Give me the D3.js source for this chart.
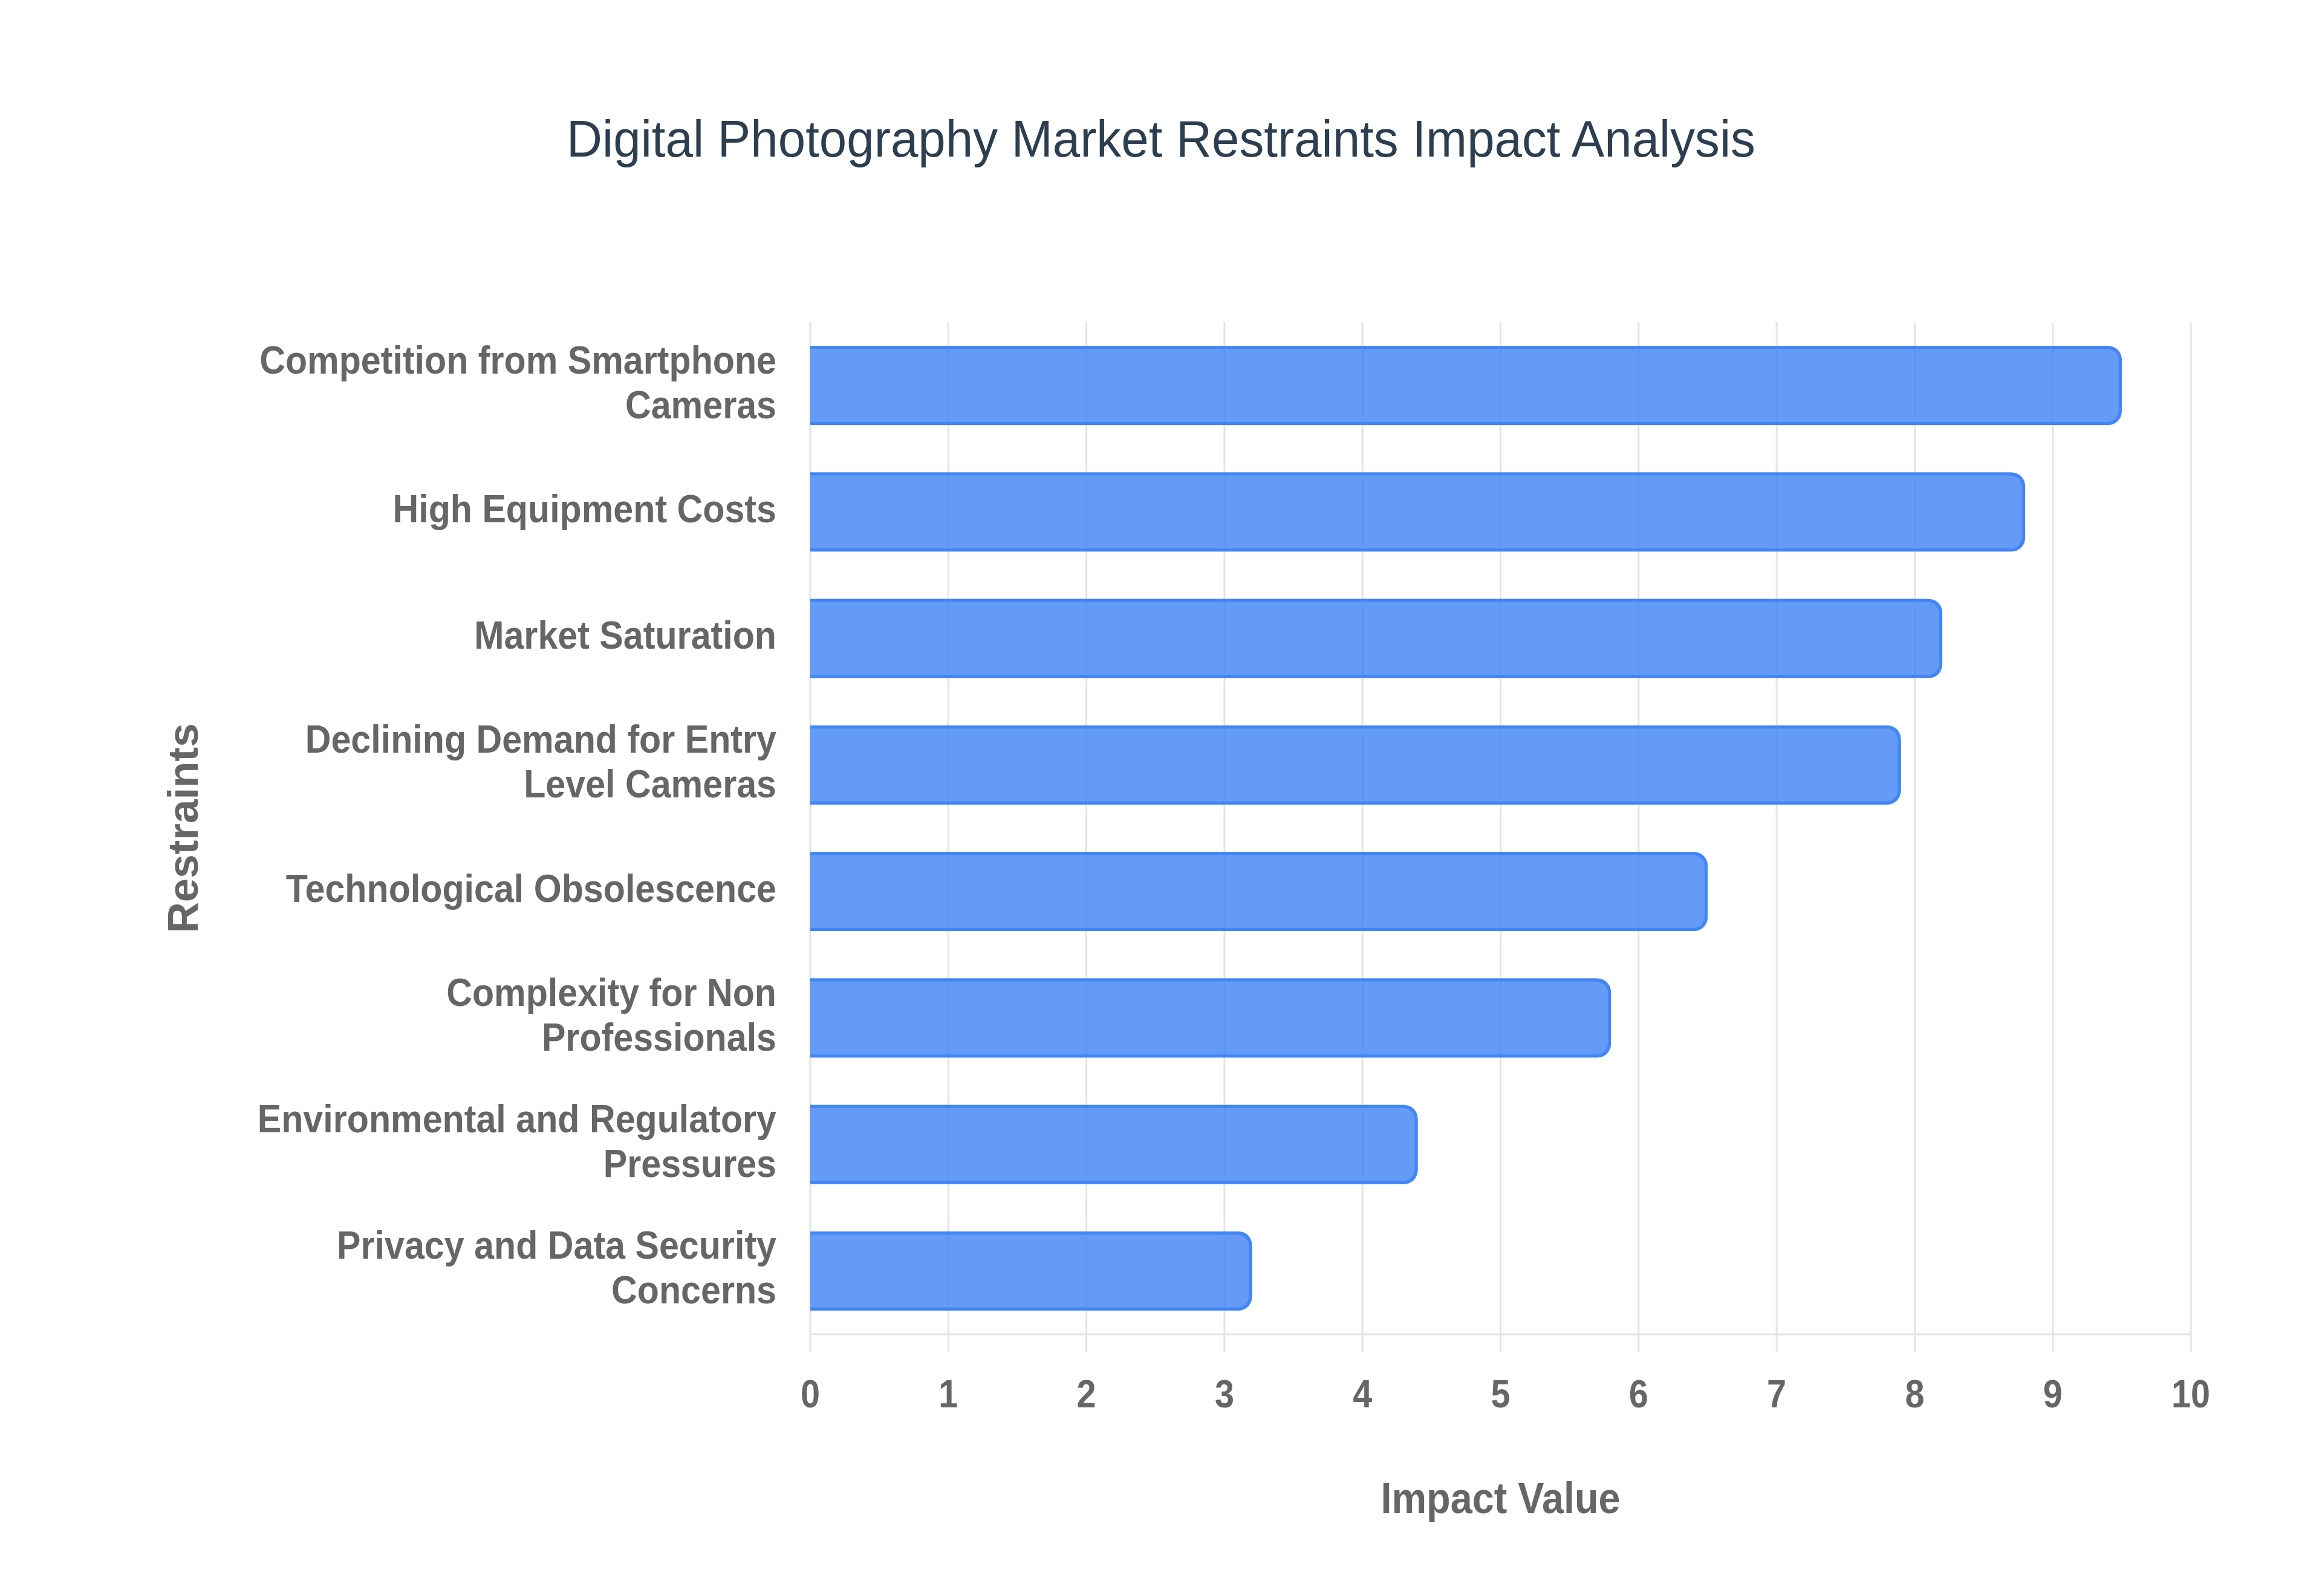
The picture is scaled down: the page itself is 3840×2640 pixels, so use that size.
<!DOCTYPE html>
<html>
<head>
<meta charset="utf-8">
<script src="https://cdn.jsdelivr.net/npm/d3@7"></script>
<style>
  html, body { margin: 0; padding: 0; background: #fff; }
  svg { display: block; }
</style>
</head>
<body>
<svg id="chart" width="3840" height="2640"></svg>
<script>
// Restraints, top to bottom as drawn
const categories = [
	"Competition from Smartphone Cameras",
	"High Equipment Costs",
	"Market Saturation",
	"Declining Demand for Entry Level Cameras",
	"Technological Obsolescence",
	"Complexity for Non Professionals",
	"Environmental and Regulatory Pressures",
	"Privacy and Data Security Concerns"
];
// How the labels wrap on the axis
const labelLines = [
	["Competition from Smartphone", "Cameras"],
	["High Equipment Costs"],
	["Market Saturation"],
	["Declining Demand for Entry", "Level Cameras"],
	["Technological Obsolescence"],
	["Complexity for Non", "Professionals"],
	["Environmental and Regulatory", "Pressures"],
	["Privacy and Data Security", "Concerns"]
];
const impactValues = [9.5, 8.8, 8.2, 7.9, 6.5, 5.8, 4.4, 3.2];
const xTicks = [0, 1, 2, 3, 4, 5, 6, 7, 8, 9, 10];

const chartTitle = "Digital Photography Market Restraints Impact Analysis";
const xTitle = "Impact Value";
const yTitle = "Restraints";

const svg = d3.select("#chart");

const plot = { left: 1340, right: 3623, top: 533, bottom: 2207 };
const squeeze = 0.9;		// the reference text is a bit narrow horizontally
const textColor = "#666666";
const gridColor = "#e4e4e4";
const font = "'Liberation Sans', Arial, Helvetica, sans-serif";

const xScale = d3.scaleLinear()
	.domain([0, 10])
	.range([plot.left, plot.right]);

const yScale = d3.scaleBand()
	.domain(categories)
	.range([plot.top, plot.bottom])
	.paddingInner(0.374)
	.paddingOuter(0.187);

// Vertical grid lines, running a little past the bottom axis like tick marks
svg.append("g")
	.selectAll("line")
	.data(xTicks)
	.enter()
	.append("line")
	.attr("x1", d => xScale(d))
	.attr("x2", d => xScale(d))
	.attr("y1", plot.top)
	.attr("y2", plot.bottom + 30)
	.attr("stroke", gridColor)
	.attr("stroke-width", 3);

// bottom axis line
svg.append("line")
	.attr("x1", plot.left)
	.attr("x2", plot.right)
	.attr("y1", plot.bottom)
	.attr("y2", plot.bottom)
	.attr("stroke", gridColor)
	.attr("stroke-width", 3);

// Bars: square on the left, rounded on the right
const radius = 22;
const bw = 5;
function barPath(x0, x1, y0, h, closed) {
	const r = Math.min(radius, (x1 - x0) / 2, h / 2);
	let p = `M${x0},${y0}`;
	p += `H${x1 - r}`;
	p += `A${r},${r} 0 0 1 ${x1},${y0 + r}`;
	p += `V${y0 + h - r}`;
	p += `A${r},${r} 0 0 1 ${x1 - r},${y0 + h}`;
	p += `H${x0}`;
	if (closed) p += "Z";
	return p;
}

const bars = svg.append("g")
	.selectAll("g")
	.data(categories.map((c, i) => ({ cat: c, value: impactValues[i] })))
	.enter()
	.append("g");

bars.append("path")
	.attr("d", d => barPath(xScale(0), xScale(d.value), yScale(d.cat), yScale.bandwidth(), true))
	.attr("fill", "rgba(66,133,244,0.82)");

bars.append("path")
	.attr("d", d => barPath(xScale(0), xScale(d.value) - bw / 2, yScale(d.cat) + bw / 2,
		yScale.bandwidth() - bw, false))
	.attr("fill", "none")
	.attr("stroke", "#4285F4")
	.attr("stroke-width", bw);

// X tick labels
svg.append("g")
	.selectAll("text")
	.data(xTicks)
	.enter()
	.append("text")
	.attr("transform", d => `translate(${xScale(d)},${plot.bottom + 121}) scale(${squeeze},1)`)
	.attr("text-anchor", "middle")
	.attr("font-family", font)
	.attr("font-weight", "bold")
	.attr("font-size", 64)
	.attr("fill", textColor)
	.text(d => d);

// Y category labels (wrapped)
const lineHeight = 74;
const yLabels = svg.append("g")
	.selectAll("g")
	.data(categories)
	.enter()
	.append("g")
	.attr("transform", d => `translate(1284,${yScale(d) + yScale.bandwidth() / 2}) scale(0.925,1)`);

yLabels.each(function(d, i) {
	const lines = labelLines[i];
	const g = d3.select(this);
	lines.forEach((line, j) => {
		g.append("text")
			.attr("x", 0)
			.attr("y", 17 + (j - (lines.length - 1) / 2) * lineHeight)
			.attr("text-anchor", "end")
			.attr("font-family", font)
			.attr("font-weight", "bold")
			.attr("font-size", 64)
			.attr("fill", textColor)
			.text(line);
	});
});

// Axis titles
svg.append("text")
	.attr("transform", `translate(${(plot.left + plot.right) / 2},2503) scale(${squeeze},1)`)
	.attr("text-anchor", "middle")
	.attr("font-family", font)
	.attr("font-weight", "bold")
	.attr("font-size", 72)
	.attr("fill", textColor)
	.text(xTitle);

svg.append("text")
	.attr("transform", `translate(327,${(plot.top + plot.bottom) / 2}) rotate(-90)`)
	.attr("text-anchor", "middle")
	.attr("font-family", font)
	.attr("font-weight", "bold")
	.attr("font-size", 71)
	.attr("fill", textColor)
	.text(yTitle);

// Chart title
svg.append("text")
	.attr("transform", `translate(1920,259) scale(0.95,1)`)
	.attr("text-anchor", "middle")
	.attr("font-family", font)
	.attr("font-size", 86)
	.attr("fill", "#2c3e50")
	.text(chartTitle);
</script>
</body>
</html>
